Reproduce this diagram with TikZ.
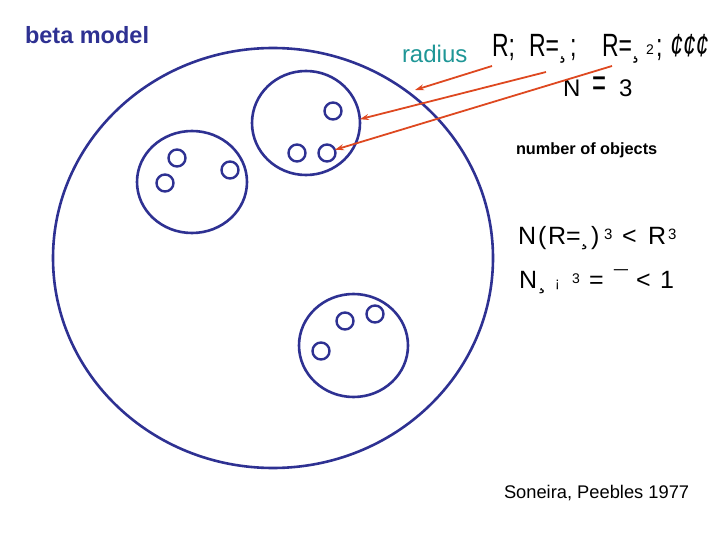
\documentclass[tikz,border=0pt]{standalone}
\usepackage{fontspec}
\usepackage{graphicx}
\setmainfont{Liberation Sans}
\usetikzlibrary{shapes.geometric,arrows.meta}
\definecolor{navy}{RGB}{46,49,146}
\definecolor{tealtxt}{RGB}{30,150,150}
\definecolor{arr}{RGB}{222,72,32}
\begin{document}
\begin{tikzpicture}[x=1pt,y=-1pt,
  ring/.style={draw=navy,line width=2.6pt,ellipse,inner sep=0pt,outer sep=0pt},
  speck/.style={draw=navy,line width=2.4pt,circle,inner sep=0pt,outer sep=0pt,minimum size=17pt},
  txt/.style={anchor=base west,inner sep=0pt,outer sep=0pt},
  pointer/.style={draw=arr,line width=1.8pt,-{Stealth[length=9pt,width=6pt]}},
  fbig/.style={font=\fontsize{25}{28}\selectfont},
  fmid/.style={font=\fontsize{23}{26}\selectfont},
  fsup/.style={font=\fontsize{15}{17}\selectfont}]
\useasboundingbox (0,0) rectangle (720,540);

% circles
\node[ring,minimum width=440pt,minimum height=420pt] (big) at (273,258) {};
\node[ring,minimum width=108pt,minimum height=104pt] (c1) at (306,123) {};
\node[ring,minimum width=110pt,minimum height=102pt] (c2) at (192,182) {};
\node[ring,minimum width=109pt,minimum height=103pt] (c3) at (353.5,345.5) {};
\node[speck] (c1a) at (333,111) {};
\node[speck] (c1b) at (297,153) {};
\node[speck] (c1c) at (327,153) {};
\node[speck] (c2a) at (177,158) {};
\node[speck] (c2b) at (165,183) {};
\node[speck] (c2c) at (230,170) {};
\node[speck] (c3a) at (321,351) {};
\node[speck] (c3b) at (345,321) {};
\node[speck] (c3c) at (375,314) {};

% texts
\node[txt,font=\fontsize{23.5}{26}\selectfont\bfseries,text=navy] (title) at (25,44) {beta model};
\node[txt,font=\fontsize{24}{27}\selectfont,text=tealtxt] (rad) at (402,62.5) {radius};

\node[txt,fmid] (r1) at (492,57) {\scalebox{1}[1.4]{R;}};
\node[txt,fmid] (r2) at (529,57) {\scalebox{1}[1.4]{R=¸}};
\node[txt,fmid] (r3) at (570,57) {\scalebox{1}[1.4]{;}};
\node[txt,fmid] (r4) at (602,57) {\scalebox{1}[1.4]{R=¸}};
\node[txt,font=\fontsize{14}{16}\selectfont] (r5) at (646,55) {2};
\node[txt,fmid] (r6) at (656,57) {\scalebox{1}[1.4]{;}};
\node[txt,fmid] (r7) at (670,57) {\scalebox{1}[1.4]{\itshape ¢¢¢}};

\node[txt,font=\fontsize{24}{27}\selectfont] (n1) at (563,97) {N};
\node[txt,font=\fontsize{40}{44}\selectfont] (n2) at (592,97) {\scalebox{0.6}[1]{=}};
\node[txt,font=\fontsize{24}{27}\selectfont] (n3) at (619,97) {3};

\node[txt,font=\fontsize{16.3}{19}\selectfont\bfseries] (num) at (516,155) {number of objects};

\node[txt,fbig] (a1) at (518,244) {N};
\node[txt,fbig] (a2) at (538,244) {(};
\node[txt,fbig] (a3) at (548,244) {R=¸};
\node[txt,fbig] (a4) at (591,244) {)};
\node[txt,fsup] (a5) at (604,240) {3};
\node[txt,fbig] (a6) at (622,244) {<};
\node[txt,fbig] (a7) at (648,244) {R};
\node[txt,fsup] (a8) at (668,240) {3};

\node[txt,fbig] (b1) at (519,288) {N};
\node[txt,fbig] (b2) at (538,288) {¸};
\node[txt,font=\fontsize{14}{16}\selectfont] (b3) at (555,287) {¡};
\node[txt,font=\fontsize{14}{16}\selectfont] (b4) at (572,283) {3};
\node[txt,fbig] (b5) at (589,288) {=};
\node[txt,fbig] (b6) at (614,288) {¯};
\node[txt,fbig] (b7) at (636,288) {<};
\node[txt,fbig] (b8) at (660,288) {1};

\node[txt,font=\fontsize{18.3}{21}\selectfont] (ref) at (504,498) {Soneira, Peebles 1977};

% arrows
\coordinate (s1) at (492,66);
\coordinate (t1) at (415,90);
\coordinate (s2) at (546,72);
\coordinate (s3) at (612,66);
\draw[pointer] (s1) -- (t1);
\draw[pointer] (s2) -- (c1.4);
\draw[pointer] (s3) -- (c1c.22);
\end{tikzpicture}
\end{document}
